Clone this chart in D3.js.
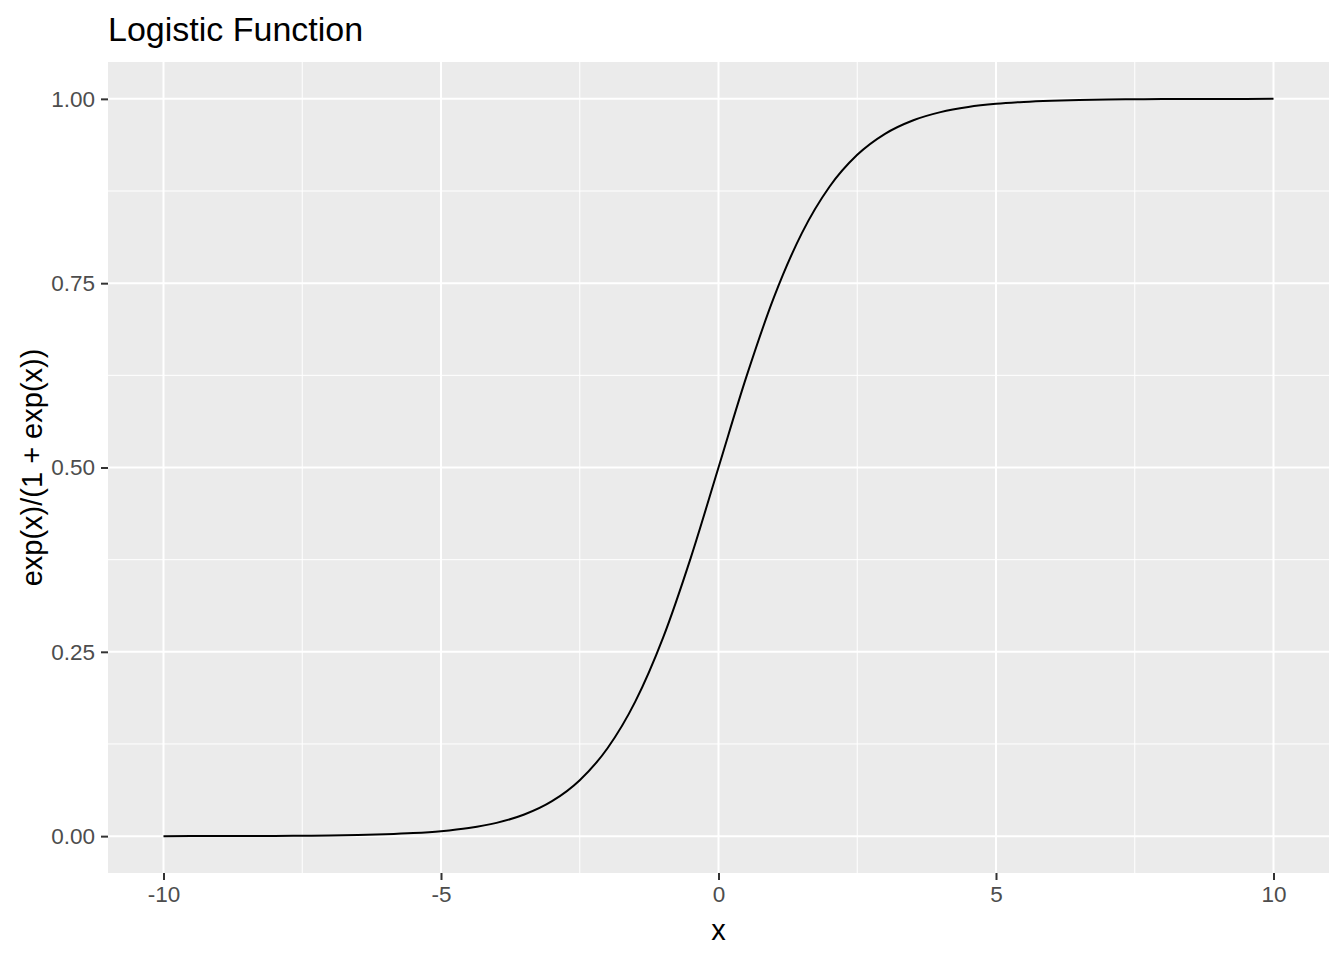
<!DOCTYPE html>
<html>
<head>
<meta charset="utf-8">
<script src="https://cdn.jsdelivr.net/npm/d3@7"></script>
<style>
  body { margin: 0; background: #fff; }
  text { font-family: "Liberation Sans", Arial, sans-serif; }
</style>
</head>
<body>
<svg width="1344" height="960"></svg>
<script>
// values, x step 0.5
var xs = [-10, -9.5, -9, -8.5, -8, -7.5, -7, -6.5, -6, -5.5, -5, -4.5, -4, -3.5, -3, -2.5, -2, -1.5, -1, -0.5,
          0, 0.5, 1, 1.5, 2, 2.5, 3, 3.5, 4, 4.5, 5, 5.5, 6, 6.5, 7, 7.5, 8, 8.5, 9, 9.5, 10];
var ys = [0.0000, 0.0001, 0.0001, 0.0002, 0.0003, 0.0006, 0.0009, 0.0015, 0.0025, 0.0041, 0.0067, 0.0110, 0.0180,
          0.0293, 0.0474, 0.0759, 0.1192, 0.1824, 0.2689, 0.3775, 0.5000, 0.6225, 0.7311, 0.8176, 0.8808, 0.9241,
          0.9526, 0.9707, 0.9820, 0.9890, 0.9933, 0.9959, 0.9975, 0.9985, 0.9991, 0.9994, 0.9997, 0.9998, 0.9999,
          0.9999, 1.0000];
var xTicks = [-10, -5, 0, 5, 10];
var xMinor = [-7.5, -2.5, 2.5, 7.5];
var yTicks = [0, 0.25, 0.5, 0.75, 1];
var yMinor = [0.125, 0.375, 0.625, 0.875];

var pLeft = 108, pRight = 1329, pTop = 62, pBottom = 873;

var svg = d3.select("svg");

var x = d3.scaleLinear().domain([-11, 11]).range([pLeft, pRight]);
var y = d3.scaleLinear().domain([-0.05, 1.05]).range([pBottom, pTop]);

// panel
svg.append("rect")
  .attr("x", pLeft).attr("y", pTop)
  .attr("width", pRight - pLeft).attr("height", pBottom - pTop)
  .attr("fill", "#EBEBEB");

var grid = svg.append("g").attr("stroke", "#fff");
grid.selectAll(".xminor").data(xMinor).enter().append("line")
  .attr("x1", function(d) { return x(d); }).attr("x2", function(d) { return x(d); })
  .attr("y1", pTop).attr("y2", pBottom).attr("stroke-width", 1);
grid.selectAll(".yminor").data(yMinor).enter().append("line")
  .attr("y1", function(d) { return y(d); }).attr("y2", function(d) { return y(d); })
  .attr("x1", pLeft).attr("x2", pRight).attr("stroke-width", 1);
grid.selectAll(".xmajor").data(xTicks).enter().append("line")
  .attr("x1", function(d) { return x(d); }).attr("x2", function(d) { return x(d); })
  .attr("y1", pTop).attr("y2", pBottom).attr("stroke-width", 2);
grid.selectAll(".ymajor").data(yTicks).enter().append("line")
  .attr("y1", function(d) { return y(d); }).attr("y2", function(d) { return y(d); })
  .attr("x1", pLeft).attr("x2", pRight).attr("stroke-width", 2);

// curve
var pts = xs.map(function(d, i) { return [d, ys[i]]; });
var line = d3.line()
  .x(function(d) { return x(d[0]); })
  .y(function(d) { return y(d[1]); })
  .curve(d3.curveMonotoneX);
svg.append("path")
  .datum(pts)
  .attr("d", line)
  .attr("fill", "none")
  .attr("stroke", "#000")
  .attr("stroke-width", 2);

// axes
var xAxis = svg.append("g")
  .attr("transform", "translate(0," + pBottom + ")")
  .call(d3.axisBottom(x).tickValues(xTicks).tickSize(7).tickPadding(6)
    .tickFormat(function(d) { return d < 0 ? "-" + Math.abs(d) : d; }));
var yAxis = svg.append("g")
  .attr("transform", "translate(" + pLeft + ",0)")
  .call(d3.axisLeft(y).tickValues(yTicks).tickSize(7).tickPadding(6).tickFormat(d3.format(".2f")));

[xAxis, yAxis].forEach(function(a) {
  a.select(".domain").remove();
  a.selectAll(".tick line").attr("stroke", "#333333").attr("stroke-width", 2);
  a.selectAll(".tick text").attr("fill", "#4D4D4D").style("font-size", "22.5px")
    .style("font-family", "'Liberation Sans', Arial, sans-serif");
});

// titles
svg.append("text")
  .attr("x", pLeft).attr("y", 41)
  .style("font-size", "34px")
  .text("Logistic Function");

svg.append("text")
  .attr("x", x(0)).attr("y", 940)
  .attr("text-anchor", "middle")
  .style("font-size", "29px")
  .text("x");

svg.append("text")
  .attr("transform", "translate(42," + y(0.5) + ") rotate(-90)")
  .attr("text-anchor", "middle")
  .style("font-size", "29px")
  .text("exp(x)/(1 + exp(x))");
</script>
</body>
</html>
